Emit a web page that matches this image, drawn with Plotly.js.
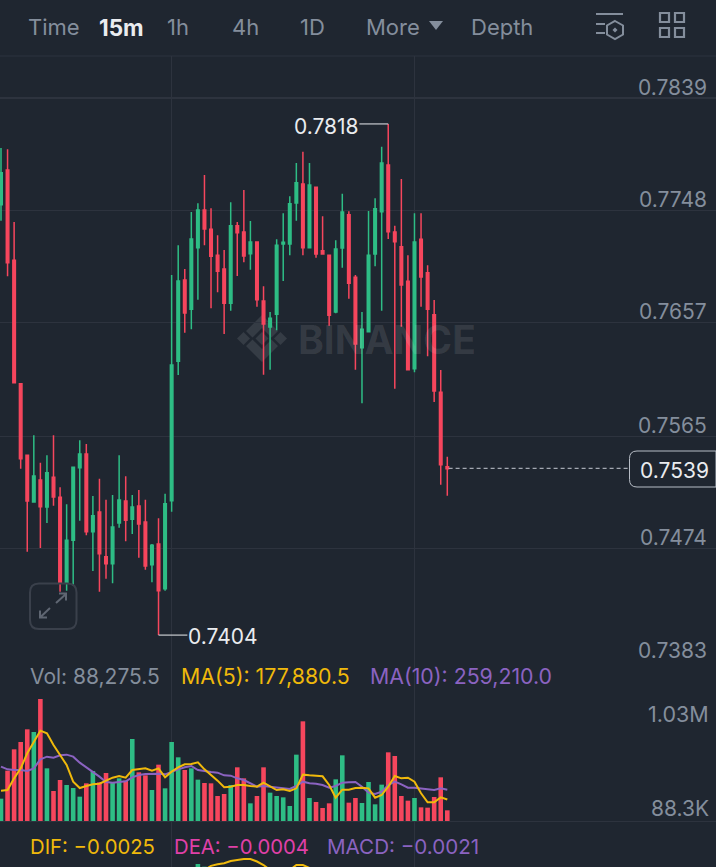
<!DOCTYPE html>
<html>
<head>
<meta charset="utf-8">
<script src="https://cdn.plot.ly/plotly-3.0.1.min.js"></script>
<style>html,body{margin:0;padding:0;background:#1F2630;overflow:hidden}#chart{width:716px;height:867px}</style>
</head>
<body>
<div id="chart"></div>
<script>
const openPrice = [.77526,.77807,.77076,.76076,.75496,.75118,.75296,.75077,.75318,.75156,.74467,.74808,.75396,.75507,.74877,.75037,.74675,.74618,.74948,.75126,.74978,.75085,.74956,.7461,.74778,.74416,.75128,.76258,.76916,.76679,.77178,.77483,.77327,.77116,.77005,.76727,.77356,.77305,.77129,.77224,.76746,.76535,.76638,.77208,.77208,.7754,.77694,.77178,.77667,.77153,.77116,.76657,.77175,.77445,.76938,.76368,.76497,.77127,.77469,.77848,.77305,.77186,.76906,.76198,.77246,.76975,.76635,.76006,.75404];
const highPrice = [.77985,.77975,.77386,.76076,.75496,.75658,.75436,.75496,.75658,.75237,.75099,.75404,.75618,.75588,.75166,.75307,.75136,.75175,.75496,.75326,.75175,.75215,.75136,.74778,.74986,.75185,.76957,.77197,.77005,.77467,.77537,.77767,.77497,.77278,.77159,.77545,.77386,.77645,.77394,.77224,.76865,.76657,.77246,.77456,.77594,.77864,.77955,.77864,.77667,.77432,.77116,.77238,.77615,.77473,.76957,.76657,.77475,.77578,.77996,.7818,.77356,.77734,.77116,.77456,.77456,.77035,.76754,.76187,.75485];
const lowPrice = [.77396,.76946,.76082,.75388,.74715,.75118,.74745,.74948,.75088,.74391,.74399,.7444,.74966,.74848,.74559,.74391,.74497,.74459,.7491,.748,.74859,.74667,.74569,.74467,.7404,.74399,.75039,.76147,.76489,.76517,.76756,.77197,.76687,.76816,.76479,.76667,.76948,.77059,.76999,.767,.76149,.76189,.76509,.76908,.77116,.77396,.77116,.77178,.77097,.77127,.76546,.76646,.77016,.76765,.76189,.75917,.76497,.77027,.76667,.77248,.76036,.76538,.76189,.76168,.767,.76298,.75928,.75258,.75169];
const closePrice = [.77785,.77056,.76084,.75469,.75126,.75328,.7508,.75355,.75158,.74467,.74808,.75399,.75507,.74877,.75007,.74699,.74618,.74915,.75134,.7497,.75077,.7494,.74599,.74767,.74399,.75104,.76228,.76908,.76649,.77248,.77483,.77329,.77108,.76987,.76727,.77356,.77299,.7711,.77224,.76756,.7656,.76606,.77197,.77221,.77534,.77704,.77178,.77686,.77127,.77127,.7663,.77167,.77467,.76889,.76398,.76517,.77116,.77494,.77864,.77307,.77226,.76876,.76189,.77224,.7694,.76679,.76017,.7542,.75388];
const volume = [184700,416300,592800,653400,758200,736100,1009000,435600,248100,339100,297800,272900,201300,311500,413600,319800,397000,317100,352900,333600,678200,402500,377700,256400,465900,270200,653400,526600,421800,435600,341900,314300,311500,206800,223300,297800,443900,352900,146100,206800,443900,234300,206800,195700,124100,548600,824300,190200,157100,107500,146100,344600,543100,151600,190200,148900,322600,137900,300500,567900,537600,206800,168200,190200,113000,110300,198500,361200,88275.5];
const ma5 = [250900,256400,352900,435600,559700,656200,747100,725100,628600,545900,463200,325300,272900,289500,303300,308800,333600,358400,372200,358400,421800,427300,435600,416300,435600,361200,408000,443900,468700,471400,485200,427300,380500,333600,278500,284000,297800,297800,289500,284000,317100,286700,256400,261900,248100,270200,383200,377700,372200,369400,297800,193000,259200,259200,272900,275700,270200,193000,215000,284000,372200,352900,358400,325300,228800,154400,154400,195700,177880.5];
const ma10 = [449400,427300,421800,421800,413600,435600,510000,532100,523800,543100,548600,532100,482500,443900,408000,366700,322600,317100,322600,328100,361200,380500,388700,391500,391500,386000,408000,427300,443900,454900,421800,410800,405300,399800,377700,375000,352900,339100,311500,284000,289500,284000,275700,270200,264700,289500,325300,311500,308800,297800,275700,289500,317100,319800,322600,284000,234300,223300,242600,297800,325300,303300,275700,275700,270200,264700,256400,270200,259210];
const difIndex = [31,32,33,34,35,36,37,38,39,40,41,44,45,46,47];
const difValue = [.0021,.00251,.00267,.00277,.003,.00313,.0032,.0032,.00295,.0026,.0021,.0021,.0026,.0026,.0023];
const macdIndex = [30,31];
const macdValue = [.0027,.00243];
const priceTicks = [.7839,.7748,.7657,.7565,.7474,.7383];
const priceLabels = ['0.7839','0.7748','0.7657','0.7565','0.7474','0.7383'];
const navLabels = ['Time','15m','1h','4h','1D','More','Depth'];
const navX = [28,99,167,232,300,366,471];
const xGrid = [26,63];
const lastPrice = 0.7539;
const highMark = 0.7818, lowMark = 0.7404;

const W=716,H=867, UP='#2EBD85', DOWN='#F6465D', BG='#1F2630', GRID='#2D333E', GRAY='#848E9C';
const idx = openPrice.map((_,i)=>i);
const px = x=>x/W, py = y=>1-y/H;
const xr=[-0.152,108.94];
const volColor = idx.map(i=>closePrice[i]>=openPrice[i]?UP:DOWN);

const traces=[
 {type:'candlestick',x:idx,open:openPrice,high:highPrice,low:lowPrice,close:closePrice,xaxis:'x',yaxis:'y',whiskerwidth:0,
  increasing:{line:{color:UP,width:1.5},fillcolor:UP},decreasing:{line:{color:DOWN,width:1.5},fillcolor:DOWN},hoverinfo:'skip'},
 {type:'bar',x:idx,y:volume,xaxis:'x2',yaxis:'y2',marker:{color:volColor,line:{width:0}},width:0.7,hoverinfo:'skip'},
 {type:'scatter',mode:'lines',x:idx,y:ma10,xaxis:'x2',yaxis:'y2',line:{color:'#8B63C1',width:2},hoverinfo:'skip'},
 {type:'scatter',mode:'lines',x:idx,y:ma5,xaxis:'x2',yaxis:'y2',line:{color:'#F0B90B',width:2},hoverinfo:'skip'},
 {type:'bar',x:macdIndex,y:macdValue,xaxis:'x3',yaxis:'y3',marker:{color:UP},width:0.7,hoverinfo:'skip'},
 {type:'scatter',mode:'lines',x:difIndex.slice(0,11),y:difValue.slice(0,11),xaxis:'x3',yaxis:'y3',line:{color:'#F0B90B',width:2},hoverinfo:'skip'},
 {type:'scatter',mode:'lines',x:difIndex.slice(11),y:difValue.slice(11),xaxis:'x3',yaxis:'y3',line:{color:'#F0B90B',width:2},hoverinfo:'skip'}
];

const FONT='Inter, sans-serif';
const T=(text,x,y,anchor,size,color,weight)=>({text,x:px(x),y:py(y),xref:'paper',yref:'paper',xanchor:anchor,yanchor:'middle',
  showarrow:false,font:{family:FONT,size,color,weight:weight||400},borderpad:0,borderwidth:0});
const annotations=[];
navLabels.forEach((t,i)=>annotations.push(T(t,navX[i],27,'left',t==='15m'?22.5:22,t==='15m'?'#EAECEF':GRAY,t==='15m'?700:400)));
priceTicks.forEach((v,i)=>annotations.push({text:priceLabels[i],x:px(709),xref:'paper',y:v,yref:'y',xanchor:'right',yanchor:'middle',yshift:11,showarrow:false,font:{family:FONT,size:21,color:GRAY}}));
annotations.push(T('0.7818',359,126,'right',21,'#EAECEF'));
annotations.push(T('0.7404',188,636,'left',21,'#EAECEF'));
annotations.push(T('0.7539',674,470,'center',21,'#EAECEF'));
annotations.push(T('BINANCE',387,339,'center',39,'rgba(255,255,255,0.1)',700));
annotations.push(T('Vol: 88,275.5',30,676,'left',21,GRAY));
annotations.push(T('MA(5): 177,880.5',181,676,'left',21.3,'#F0B90B'));
annotations.push(T('MA(10): 259,210.0',370,676,'left',21.3,'#8B63C1'));
annotations.push(T('1.03M',709,714,'right',21.5,GRAY));
annotations.push(T('88.3K',709,808,'right',21,GRAY));
annotations.push(T('DIF: −0.0025',30,846,'left',20.3,'#F0B90B'));
annotations.push(T('DEA: −0.0004',174,846,'left',20.3,'#E040A8'));
annotations.push(T('MACD: −0.0021',327,846,'left',20.6,'#8B63C1'));

const pathPx=(d,o)=>Object.assign({type:'path',xref:'paper',yref:'paper',path:d.replace(/(-?[\d.]+),(-?[\d.]+)/g,(m,a,b)=>px(+a)+','+py(+b)),line:{color:GRAY,width:2},layer:'above'},o||{});
const WM='rgba(255,255,255,0.1)';
const diamond=(cx,cy,r)=>`M${cx-r},${cy} L${cx},${cy-r} L${cx+r},${cy} L${cx},${cy+r} Z`;
const shapes=[
 {type:'line',xref:'paper',yref:'paper',x0:0,x1:1,y0:py(56),y1:py(56),line:{color:GRID,width:1.2},layer:'below'},
 {type:'line',xref:'x',yref:'y',x0:59,x1:54.6,y0:highMark,y1:highMark,line:{color:'#EAECEF',width:1},layer:'above'},
 {type:'line',xref:'x',yref:'y',x0:24,x1:28.4,y0:lowMark,y1:lowMark,line:{color:'#EAECEF',width:1},layer:'above'},
 {type:'line',xref:'x',yref:'y',x0:68.2,x1:95.8,y0:lastPrice,y1:lastPrice,line:{color:'#A4A9B2',width:1.2,dash:'4px,3px'},layer:'above'},
 pathPx('M637,451 L716,451 L716,451 Q716,451 716,451 L716,487 L637,487 Q629.5,487 629.5,479.5 L629.5,458.5 Q629.5,451 637,451 Z',{line:{color:'#B7BDC6',width:1},fillcolor:BG,layer:'above'}),
 pathPx(diamond(262,338.5,6.5),{fillcolor:WM,line:{width:0},layer:'below'}),
 pathPx(diamond(243.5,338.5,6.5),{fillcolor:WM,line:{width:0},layer:'below'}),
 pathPx(diamond(280.5,338.5,6.5),{fillcolor:WM,line:{width:0},layer:'below'}),
 pathPx('M262,315 L278,331 L271.5,337.5 L262,328 L252.5,337.5 L246,331 Z',{fillcolor:WM,line:{width:0},layer:'below'}),
 pathPx('M262,362 L278,346 L271.5,339.5 L262,349 L252.5,339.5 L246,346 Z',{fillcolor:WM,line:{width:0},layer:'below'}),
 pathPx('M39,583.5 L67.5,583.5 Q76.5,583.5 76.5,592.5 L76.5,620 Q76.5,629 67.5,629 L39,629 Q30,629 30,620 L30,592.5 Q30,583.5 39,583.5 Z',{line:{color:'#3A404B',width:2}}),
 pathPx('M56,603 L66,594 M59,593.5 L66,593.5 L66,600.5',{line:{color:'#5F6672',width:2}}),
 pathPx('M50,608 L40,617.5 M40,610.5 L40,617.5 L47,617.5',{line:{color:'#5F6672',width:2}}),
 pathPx('M429,21 L443,21 L436,30 Z',{fillcolor:GRAY,line:{width:0}}),
 pathPx('M596,14 L623,14',{line:{color:GRAY,width:2}}),
 pathPx('M596,24 L605,24 M596,33 L605,33',{line:{color:GRAY,width:2}}),
 pathPx('M615,21 L623,25.5 L623,34.5 L615,39 L607,34.5 L607,25.5 Z',{line:{color:GRAY,width:2}}),
 pathPx(diamond(615,30,2.5),{fillcolor:GRAY,line:{width:0}}),
 pathPx('M660,13 L669,13 L669,22 L660,22 Z M675,13 L684,13 L684,22 L675,22 Z M660,28 L669,28 L669,37 L660,37 Z M675,28 L684,28 L684,37 L675,37 Z',{line:{color:GRAY,width:2.2}})
];

const xBase={range:xr,fixedrange:true,showticklabels:false,showgrid:true,gridcolor:GRID,gridwidth:1.2,tickvals:xGrid,zeroline:false,ticks:''};
const layout={
 width:W,height:H,autosize:false,margin:{l:0,r:0,t:0,b:0,pad:0},paper_bgcolor:BG,plot_bgcolor:BG,showlegend:false,dragmode:false,
 hovermode:false,barmode:'overlay',boxgap:0.45,boxmode:'overlay',
 xaxis:Object.assign({},xBase,{anchor:'y',domain:[0,1],rangeslider:{visible:false}}),
 xaxis2:Object.assign({},xBase,{anchor:'y2',domain:[0,1],showline:true,linecolor:GRID,linewidth:1.2}),
 xaxis3:Object.assign({},xBase,{anchor:'y3',domain:[0,1]}),
 yaxis:{domain:[py(662),py(56)],range:[.73822,.787304],tickvals:priceTicks,showticklabels:false,showgrid:true,gridcolor:GRID,gridwidth:1.2,zeroline:false,fixedrange:true,anchor:'x'},
 yaxis2:{domain:[py(821),py(662)],range:[0,1314930],showticklabels:false,showgrid:false,zeroline:false,fixedrange:true,anchor:'x2'},
 yaxis3:{domain:[0,py(821)],range:[.0024,.007],showticklabels:false,showgrid:false,zeroline:false,fixedrange:true,anchor:'x3'},
 annotations,shapes,font:{family:FONT}
};
Plotly.newPlot('chart',traces,layout,{staticPlot:true,displayModeBar:false});
</script>
</body>
</html>
